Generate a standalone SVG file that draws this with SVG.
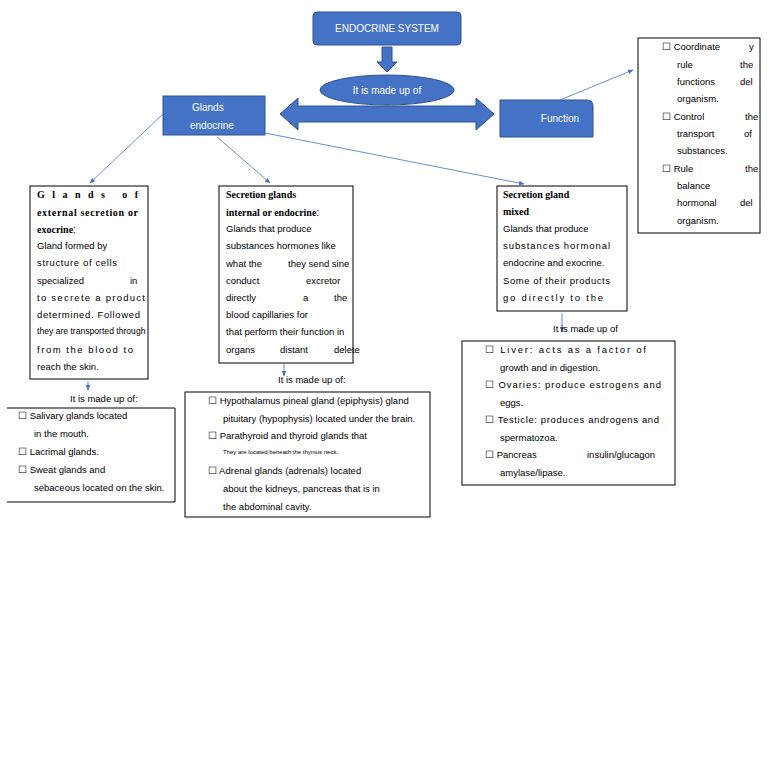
<svg xmlns="http://www.w3.org/2000/svg" width="768" height="762" viewBox="0 0 768 762">
<defs>
<style>
.b{fill:#4472c4;stroke:#2f528f;stroke-width:1}
.w{fill:#fff;font-family:"Liberation Sans",Arial,sans-serif;font-size:10px}
.t{fill:#000;font-family:"Liberation Sans",Arial,sans-serif;font-size:9.5px}
.s{font-size:6px}
.h{font-family:"Liberation Serif",serif;font-weight:bold;font-size:10px}
.box{fill:#fff;stroke:#000;stroke-width:1}
.c{stroke:#4472c4;stroke-width:0.8;fill:none;marker-end:url(#a)}
</style>
<marker id="a" viewBox="0 0 10 10" refX="9" refY="5" markerWidth="7" markerHeight="7" orient="auto"><path d="M0,1 L10,5 L0,9 z" fill="#4472c4"/></marker>
</defs>
<rect width="768" height="762" fill="#fff"/>
<g id="endocrine-system"><rect class="b" x="313" y="12" width="148" height="33" rx="4"/><text class="w" x="387" y="32" text-anchor="middle">ENDOCRINE SYSTEM</text></g>
<g id="down-arrow"><path class="b" d="M382,47 H392 V62 H397 L387,72 L377,62 H382 Z"/></g>
<g id="made-up"><ellipse class="b" cx="387" cy="90" rx="67" ry="15"/><text class="w" x="387" y="94" text-anchor="middle">It is made up of</text></g>
<g id="double-arrow"><path class="b" d="M280,114 L298,98 V106 H476 V98 L494,114 L476,130 V122 H298 V130 Z"/></g>
<g id="glands"><rect class="b" x="163" y="96" width="102" height="39"/><text class="w" x="192" y="111">Glands</text><text class="w" x="190" y="129">endocrine</text></g>
<g id="function"><path class="b" d="M500,100 H587 Q593,100 593,106 V137 H500 Z"/><text class="w" x="560" y="122" text-anchor="middle">Function</text></g>
<g id="connectors">
<line class="c" x1="163" y1="114" x2="90" y2="183"/>
<line class="c" x1="217" y1="137" x2="270" y2="183"/>
<line class="c" x1="265" y1="133" x2="524" y2="184"/>
<line class="c" x1="560" y1="100" x2="633" y2="70"/>
<line class="c" x1="88" y1="381" x2="88" y2="390"/>
<line class="c" x1="284" y1="364" x2="284" y2="376"/>
<line class="c" x1="562" y1="313" x2="562" y2="332"/>
</g>
<g id="function-box"><rect class="box" x="638" y="38" width="122" height="195"/>
<text class="t"><tspan x="662" y="50">☐ Coordinate</tspan><tspan x="749" y="50">y</tspan>
<tspan x="677" y="68">rule</tspan><tspan x="740" y="68">the</tspan>
<tspan x="677" y="85">functions</tspan><tspan x="740" y="85">del</tspan>
<tspan x="677" y="102">organism.</tspan>
<tspan x="662" y="120">☐ Control</tspan><tspan x="745" y="120">the</tspan>
<tspan x="677" y="137">transport</tspan><tspan x="744" y="137">of</tspan>
<tspan x="677" y="154">substances.</tspan>
<tspan x="662" y="172">☐ Rule</tspan><tspan x="745" y="172">the</tspan>
<tspan x="677" y="189">balance</tspan>
<tspan x="677" y="206">hormonal</tspan><tspan x="740" y="206">del</tspan>
<tspan x="677" y="224">organism.</tspan></text></g>
<g id="exocrine"><rect class="box" x="30" y="186" width="118" height="193"/>
<text class="t h"><tspan x="37" y="198" textLength="101" lengthAdjust="spacing">Glands of</tspan><tspan x="37" y="216" textLength="101" lengthAdjust="spacing">external secretion or</tspan><tspan x="37" y="233">exocrine</tspan><tspan font-weight="normal" font-family="Liberation Sans,sans-serif">:</tspan></text>
<text class="t"><tspan x="37" y="249">Gland formed by</tspan><tspan x="37" y="266" textLength="80" lengthAdjust="spacing">structure of cells</tspan><tspan x="37" y="284">specialized</tspan><tspan x="130" y="284">in</tspan><tspan x="37" y="301" textLength="108" lengthAdjust="spacing">to secrete a product</tspan><tspan x="37" y="318" textLength="103" lengthAdjust="spacing">determined. Followed</tspan><tspan x="37" y="334" font-size="8.6">they are transported through</tspan><tspan x="37" y="353" textLength="96" lengthAdjust="spacing">from the blood to</tspan><tspan x="37" y="370">reach the skin.</tspan></text></g>
<g id="endocrine"><rect class="box" x="219" y="186" width="134" height="177"/>
<text class="t h"><tspan x="226" y="198">Secretion glands</tspan><tspan x="226" y="216">internal or endocrine</tspan><tspan font-weight="normal" font-family="Liberation Sans,sans-serif">:</tspan></text>
<text class="t"><tspan x="226" y="232">Glands that produce</tspan><tspan x="226" y="249">substances hormones like</tspan><tspan x="226" y="267">what the</tspan><tspan x="288" y="267">they send sine</tspan><tspan x="226" y="284">conduct</tspan><tspan x="306" y="284">excretor</tspan><tspan x="226" y="301">directly</tspan><tspan x="303" y="301">a</tspan><tspan x="334" y="301">the</tspan><tspan x="226" y="318">blood capillaries for</tspan><tspan x="226" y="335">that perform their function in</tspan><tspan x="226" y="353">organs</tspan><tspan x="280" y="353">distant</tspan><tspan x="334" y="353">delete</tspan></text></g>
<g id="mixed"><rect class="box" x="497" y="186" width="130" height="125"/>
<text class="t h"><tspan x="503" y="198">Secretion gland</tspan><tspan x="503" y="215">mixed</tspan></text>
<text class="t"><tspan x="503" y="232">Glands that produce</tspan><tspan x="503" y="249" textLength="107" lengthAdjust="spacing">substances hormonal</tspan><tspan x="503" y="266">endocrine and exocrine.</tspan><tspan x="503" y="284" textLength="107" lengthAdjust="spacing">Some of their products</tspan><tspan x="503" y="301" textLength="100" lengthAdjust="spacing">go directly to the</tspan></text></g>
<g id="label1"><text class="t" x="70" y="402">It is made up of:</text></g>
<g id="label2"><text class="t" x="278" y="383">It is made up of:</text></g>
<g id="label3"><text class="t" x="553" y="332">It is made up of</text></g>
<g id="exo-list"><path d="M7,408 H175 V502 H7" fill="none" stroke="#000"/>
<text class="t"><tspan x="18" y="419">☐ Salivary glands located</tspan><tspan x="34" y="437">in the mouth.</tspan><tspan x="18" y="455">☐ Lacrimal glands.</tspan><tspan x="18" y="473">☐ Sweat glands and</tspan><tspan x="34" y="491">sebaceous located on the skin.</tspan></text></g>
<g id="endo-list"><rect class="box" x="185" y="392" width="245" height="125"/>
<text class="t"><tspan x="208" y="404">☐ Hypothalamus pineal gland (epiphysis) gland</tspan><tspan x="223" y="422">pituitary (hypophysis) located under the brain.</tspan><tspan x="208" y="439">☐ Parathyroid  and  thyroid  glands  that</tspan><tspan x="223" y="454" class="s">They are located beneath the thymus neck.</tspan><tspan x="208" y="474">☐ Adrenal glands (adrenals) located</tspan><tspan x="223" y="492">about the kidneys, pancreas that is in</tspan><tspan x="223" y="510">the abdominal cavity.</tspan></text></g>
<g id="mixed-list"><rect class="box" x="462" y="341" width="213" height="144"/>
<text class="t"><tspan x="485" y="353" textLength="161" lengthAdjust="spacing">☐ Liver: acts as a factor of</tspan><tspan x="500" y="371">growth and in digestion.</tspan><tspan x="485" y="388" textLength="176" lengthAdjust="spacing">☐ Ovaries: produce estrogens and</tspan><tspan x="500" y="406">eggs.</tspan><tspan x="485" y="423" textLength="174" lengthAdjust="spacing">☐ Testicle: produces androgens and</tspan><tspan x="500" y="441">spermatozoa.</tspan><tspan x="485" y="458">☐ Pancreas</tspan><tspan x="587" y="458">insulin/glucagon</tspan><tspan x="500" y="476">amylase/lipase.</tspan></text></g>
</svg>
